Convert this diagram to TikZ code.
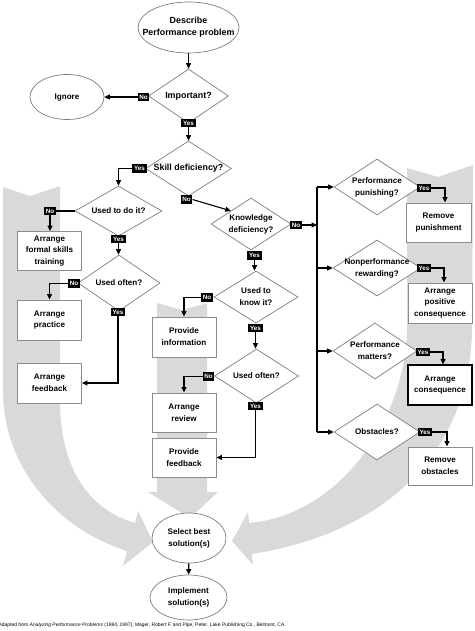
\documentclass[tikz,border=0pt]{standalone}
\usepackage{fontspec}
\setmainfont{Liberation Sans}
\usepackage{graphicx}
\usetikzlibrary{shapes.geometric,arrows.meta}
\definecolor{bandgray}{RGB}{217,217,217}
\definecolor{edgegray}{RGB}{125,125,125}
\definecolor{boxgray}{RGB}{140,140,140}
\newcommand\ztext[1]{\makebox[0pt]{\begin{tabular}{@{}c@{}}#1\end{tabular}}}
\begin{document}
\begin{tikzpicture}[x=1pt,y=-1pt,
  txt/.style={font=\bfseries\fontsize{8.1}{11.8}\selectfont},
  bigtxt/.style={font=\bfseries\fontsize{8.9}{12}\selectfont},
  stepbox/.style={txt, rectangle, draw=boxgray, line width=0.9pt, fill=white, minimum width=64pt, minimum height=39pt, align=center, inner sep=1pt},
  dia/.style={txt, diamond, draw=edgegray, line width=0.7pt, fill=white, inner sep=0pt},
  ell/.style={txt, ellipse, draw=edgegray, line width=0.7pt, fill=white, inner sep=0pt},
  yn/.style={fill=black, text=white, font=\bfseries\fontsize{6.3}{7}\selectfont, inner xsep=1.6pt, inner ysep=0pt, minimum height=8.5pt},
  link/.style={draw=black, line width=1.1pt},
  conn/.style={link, -{Triangle[length=5.5pt,width=5pt]}},
  band/.style={fill=bandgray, draw=none}]
\useasboundingbox (0,0) rectangle (474,631);

% big gray arrows
\path[band] (3,187) -- (30,196) -- (60,186) -- (60,400) .. controls (60,470) and (90,510) .. (135,523) -- (138,511) -- (153,542) -- (123,566) -- (127,551) .. controls (60,530) and (3,470) .. (3,390) -- cycle;
\path[band] (157,303) -- (182,310) -- (207,303) -- (207,492) -- (218,492) -- (190,518) -- (148,492) -- (157,492) -- cycle;
\path[band] (407,168) -- (438,177) -- (473,165) -- (472,330) .. controls (470,440) and (400,530) .. (252,554) -- (253,565) -- (232,541) -- (248,512) -- (249,523) .. controls (340,515) and (405,420) .. (407,330) -- cycle;

% nodes
\node[ell, bigtxt, minimum width=101pt, minimum height=51pt] (desc) at (188.5,27.5) {\ztext{Describe\\Performance problem}};
\node[ell, minimum width=74pt, minimum height=45pt] (ign) at (67,97) {\ztext{Ignore}};
\node[dia, bigtxt, minimum width=80pt, minimum height=54pt] (imp) at (188.5,96) {\ztext{Important?}};
\node[dia, bigtxt, minimum width=86pt, minimum height=55pt] (skill) at (188.5,168.5) {\ztext{Skill deficiency?}};
\node[dia, minimum width=87pt, minimum height=50pt] (usedo) at (118.5,211) {\ztext{Used to do it?}};
\node[stepbox] (formal) at (49.5,251) {Arrange\\formal skills\\training};
\node[dia, minimum width=82pt, minimum height=56pt] (oftenL) at (119,283) {\ztext{Used often?}};
\node[stepbox, minimum height=40pt] (practice) at (49.5,320) {Arrange\\practice};
\node[stepbox, minimum height=40pt] (fbL) at (49.5,383) {Arrange\\feedback};
\node[dia, minimum width=80pt, minimum height=52pt] (know) at (251,224) {\ztext{Knowledge\\deficiency?}};
\node[dia, minimum width=84pt, minimum height=52pt] (uknow) at (256,297) {\ztext{Used to\\know it?}};
\node[stepbox, minimum height=40pt] (info) at (184,337) {Provide\\information};
\node[dia, minimum width=84pt, minimum height=54pt] (oftenM) at (256.5,376) {\ztext{Used often?}};
\node[stepbox] (review) at (184,412.5) {Arrange\\review};
\node[stepbox] (fbM) at (184,457.5) {Provide\\feedback};
\node[dia, minimum width=86pt, minimum height=56pt] (pp) at (377,187) {\ztext{Performance\\punishing?}};
\node[dia, minimum width=88pt, minimum height=56pt] (np) at (377,268) {\ztext{Nonperformance\\rewarding?}};
\node[dia, minimum width=84pt, minimum height=56pt] (pm) at (375,351) {\ztext{Performance\\matters?}};
\node[dia, minimum width=86pt, minimum height=56pt] (ob) at (377,432) {\ztext{Obstacles?}};
\node[stepbox, minimum width=65pt] (rp) at (438.5,222.5) {Remove\\punishment};
\node[stepbox, minimum height=40pt] (apc) at (440,303) {Arrange\\positive\\consequence};
\node[stepbox, minimum height=40pt, draw=black, line width=1.2pt] (ac) at (440,385) {Arrange\\consequence};
\node[stepbox, minimum height=38pt] (ro) at (440,466) {Remove\\obstacles};
\node[ell, minimum width=74pt, minimum height=50pt] (sel) at (189,538) {\ztext{Select best\\solution(s)}};
\node[ell, minimum width=77pt, minimum height=45pt] (impl) at (188.5,597.5) {\ztext{Implement\\solution(s)}};

% yes/no labels
\node[yn] (impNo) at (143.5,97) {No};
\node[yn] (impYes) at (188.5,123) {Yes};
\node[yn] (skillYes) at (139.5,168.5) {Yes};
\node[yn] (skillNo) at (186.5,199.5) {No};
\node[yn] (usedoNo) at (50,211) {No};
\node[yn] (usedoYes) at (118.5,239) {Yes};
\node[yn] (oftenLNo) at (74,283.5) {No};
\node[yn] (oftenLYes) at (118,312) {Yes};
\node[yn] (knowNo) at (296,225) {No};
\node[yn] (knowYes) at (254.5,255.5) {Yes};
\node[yn] (uknowNo) at (207,297.5) {No};
\node[yn] (uknowYes) at (255.5,328) {Yes};
\node[yn] (oftenMNo) at (208.5,376.5) {No};
\node[yn] (oftenMYes) at (255.5,406) {Yes};
\node[yn] (ppYes) at (424,188) {Yes};
\node[yn] (npYes) at (424,268) {Yes};
\node[yn] (pmYes) at (423,352) {Yes};
\node[yn] (obYes) at (425,432) {Yes};

% connectors
\draw[conn] (desc) -- (imp);
\draw[conn] (impNo.west) -- (ign.east);
\draw[conn] (impYes.south) -- (impYes.south |- skill.north);
\draw[conn] (skillYes.west) -| (usedo.north);
\draw[conn] (skillNo.east) -- (know.north west);
\draw[link] (usedo.west) -- (usedoNo.east);
\draw[conn] (usedoNo.south) -- (usedoNo.south |- formal.north);
\draw[conn] (usedoYes.south) -- (usedoYes.south |- oftenL.north);
\draw[conn] (oftenLNo.west) -| (practice.north);
\draw[conn] (oftenLYes.south) |- (fbL.east);
\draw[conn] (knowYes.south) -- (knowYes.south |- uknow.north);
\draw[conn] (uknowNo.west) -| (info.north);
\draw[conn] (uknowYes.south) -- (uknowYes.south |- oftenM.north);
\draw[conn] (oftenMNo.west) -| (review.north);
\draw[conn] (oftenMYes.south) |- (fbM.east);
\coordinate (ttop) at (317,187);
\coordinate (tbot) at (317,432);
\draw[link] (ttop) -- (tbot);
\draw[conn] (knowNo.east) -- (knowNo.east -| ttop);
\foreach \d in {pp,np,pm,ob} \draw[conn] (\d.west -| ttop) -- (\d.west);
\draw[conn] (ppYes.east) -| ([xshift=6.5pt]rp.north);
\draw[conn] (npYes.east) -| ([xshift=4pt]apc.north);
\draw[conn] (pmYes.east) -| ([xshift=3pt]ac.north);
\draw[conn] (obYes.east) -| ([xshift=7pt]ro.north);
\draw[conn] (sel) -- (impl);

% source
\node[anchor=west, inner sep=0pt] (src) at (-1.5,625) {\resizebox{287pt}{!}{\fontsize{5}{6}\selectfont Adapted from \textit{Analyzing Performance Problems} (1984, 1997), Mager, Robert F. and Pipe, Peter. Lake Publishing Co., Belmont, CA.}};
\end{tikzpicture}
\end{document}
